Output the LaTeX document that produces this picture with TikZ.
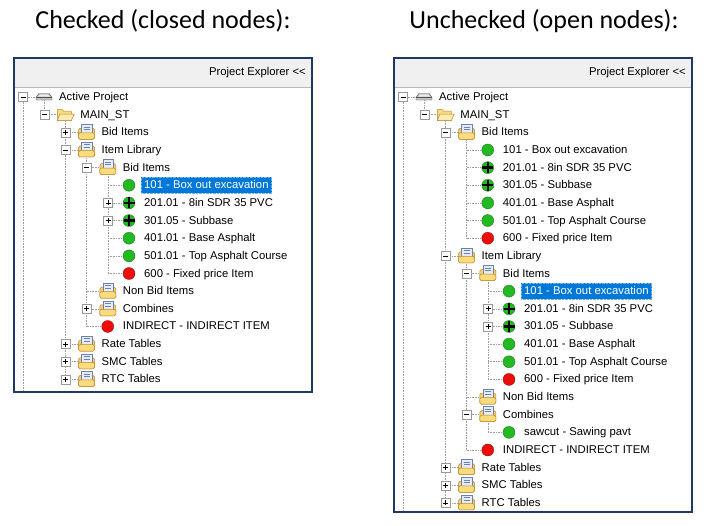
\documentclass[tikz,border=0pt]{standalone}
\usepackage{fontspec}
\setmainfont{Liberation Sans}
\newfontfamily\titlefont{Carlito}

\definecolor{panelblue}{RGB}{31,56,100}
\definecolor{headgray}{RGB}{240,240,240}
\definecolor{selblue}{RGB}{0,120,215}
\definecolor{dotgreen}{RGB}{34,185,34}
\definecolor{dotred}{RGB}{236,12,12}
\definecolor{folderfill}{RGB}{250,220,125}
\definecolor{folderline}{RGB}{185,135,45}
\definecolor{paperfill}{RGB}{228,236,250}
\definecolor{paperline}{RGB}{110,130,175}

\tikzset{
  tline/.style={gray!75, densely dotted, line width=0.6pt},
  itemtext/.style={anchor=west, inner xsep=3pt, inner ysep=2.5pt, text height=9pt, text depth=2pt,
    font=\fontsize{11.3}{13}\selectfont},
  normtext/.style={},
  seltext/.style={fill=selblue, text=white, draw=selblue!55!white, densely dotted},
}

% row and column of the tree, in pixels
\newcommand\rowy[1]{97+17.65*#1}
\newcommand\colx[1]{23+21.25*#1}

% expander box: x, y, sign
\newcommand\expbox[3]{%
  \draw[gray!80, fill=white, line width=0.5pt] (#1-4.5,#2-4.5) rectangle (#1+4.5,#2+4.5);
  \draw[line width=0.7pt] (#1-2.5,#2) -- (#1+2.5,#2);
  \ifx+#3\draw[line width=0.7pt] (#1,#2-2.5) -- (#1,#2+2.5);\fi}

% icons
\newcommand\icondisk[2]{%
  \begin{scope}[shift={(#1,#2)}]
    \filldraw[fill=gray!45, draw=gray!60!black, line width=0.4pt]
      (-8,0.5) -- (-5,-3.5) -- (5,-3.5) -- (8,0.5) -- (8,3) -- (-8,3) -- cycle;
    \draw[gray!60!black, line width=0.4pt] (-8,0.5) -- (8,0.5);
    \fill[gray!15] (-4,-2.5) -- (4,-2.5) -- (5.5,-0.5) -- (-5.5,-0.5) -- cycle;
  \end{scope}}
\newcommand\iconfold[2]{%
  \begin{scope}[shift={(#1,#2)}]
    \filldraw[fill=folderfill, draw=folderline, line width=0.5pt]
      (-8,6) -- (-8,-5) -- (-3,-5) -- (-1.5,-3.5) -- (6,-3.5) -- (6,6) -- cycle;
    \filldraw[fill=folderfill!60!white, draw=folderline, line width=0.5pt]
      (-8,6) -- (-5.5,-0.5) -- (9,-0.5) -- (6,6) -- cycle;
  \end{scope}}
\newcommand\icondoc[2]{%
  \begin{scope}[shift={(#1,#2)}]
    \filldraw[fill=folderfill!85!orange, draw=folderline, line width=0.5pt, rounded corners=1.5pt]
      (-8,7) rectangle (8,-4);
    \filldraw[fill=paperfill, draw=paperline, line width=0.5pt] (-5,2) rectangle (5.5,-8);
    \draw[paperline, line width=0.5pt] (-3,-5.5) -- (3.5,-5.5) (-3,-3) -- (3.5,-3);
    \filldraw[fill=folderfill, draw=folderline, line width=0.5pt, rounded corners=1.5pt]
      (-8,7) -- (-8,0.5) -- (8,0.5) -- (8,7) -- cycle;
  \end{scope}}
\newcommand\icong[2]{%
  \filldraw[fill=dotgreen, draw=dotgreen!60!black, line width=0.3pt] (#1,#2) circle (6pt);}
\newcommand\iconr[2]{%
  \filldraw[fill=dotred, draw=dotred!60!black, line width=0.3pt] (#1,#2) circle (6pt);}
\newcommand\icongp[2]{%
  \icong{#1}{#2}
  \draw[line width=2.4pt] (#1-5.5,#2) -- (#1+5.5,#2) (#1,#2-5.5) -- (#1,#2+5.5);}

% frame and header of the explorer pane: bottom edge
\newcommand\paneframe[1]{%
  \fill[white] (14,58) rectangle (312,#1);
  \fill[headgray] (15,59) rectangle (311,87);
  \draw[gray!55, line width=0.6pt] (15,87) -- (311,87);
  \node[anchor=east, inner sep=0pt, font=\fontsize{11.3}{13}\selectfont] (head) at (306,72.5) {Project Explorer <{}<};
  \draw[panelblue, line width=1.8pt] (14,58) rectangle (312,#1);}

% vertical tree line: column, first row, last row
\newcommand\treeline[3]{\draw[tline] (\colx{#1},\rowy{#2}) -- (\colx{#1},\rowy{#3});}

\begin{document}
\begin{tikzpicture}[x=1pt,y=-1pt]
  \useasboundingbox (0,0) rectangle (708,525);
  %\draw[help lines,step=20] (0,0) grid (708,525);

  \node[anchor=base, inner sep=0pt, font=\titlefont\fontsize{26}{30}\selectfont] (ttl-left) at (163,28) {Checked (closed nodes):};
  \node[anchor=base, inner sep=0pt, font=\titlefont\fontsize{26}{30}\selectfont] (ttl-right) at (544,28) {Unchecked (open nodes):};

  % closed nodes
  \paneframe{392}
  \treeline{0}{0}{16.6}
  \treeline{1}{0}{1}
  \treeline{2}{1}{16}
  \treeline{3}{3}{13}
  \treeline{4}{4}{10}
  \foreach \lvl/\row/\ico/\xp/\sty/\lbl in {
      0/0/disk/m/normtext/Active Project,
      1/1/fold/m/normtext/MAIN\_ST,
      2/2/doc/p/normtext/Bid Items,
      2/3/doc/m/normtext/Item Library,
      3/4/doc/m/normtext/Bid Items,
      4/5/g/x/seltext/101 - Box out excavation,
      4/6/gp/p/normtext/201.01 - 8in SDR 35 PVC,
      4/7/gp/p/normtext/301.05 - Subbase,
      4/8/g/x/normtext/401.01 - Base Asphalt,
      4/9/g/x/normtext/501.01 - Top Asphalt Course,
      4/10/r/x/normtext/600 - Fixed price Item,
      3/11/doc/x/normtext/Non Bid Items,
      3/12/doc/p/normtext/Combines,
      3/13/r/x/normtext/INDIRECT - INDIRECT ITEM,
      2/14/doc/p/normtext/Rate Tables,
      2/15/doc/p/normtext/SMC Tables,
      2/16/doc/p/normtext/RTC Tables}
  {
    \pgfmathsetmacro\xx{\colx{\lvl}}
    \pgfmathsetmacro\yy{\rowy{\row}}
    \draw[tline] (\xx,\yy) -- (\xx+13,\yy);
    \if m\xp \expbox{\xx}{\yy}{-}\fi
    \if p\xp \expbox{\xx}{\yy}{+}\fi
    \csname icon\ico\endcsname{\xx+21}{\yy}
    \node[itemtext,\sty] (L-\row) at (\xx+33,\yy) {\lbl};
  }

  % open nodes
  \begin{scope}[xshift=380pt]
    \paneframe{512}
    \treeline{0}{0}{23.4}
    \treeline{1}{0}{1}
    \treeline{2}{1}{23}
    \treeline{3}{2}{8}
    \treeline{3}{9}{20}
    \treeline{4}{10}{16}
    \treeline{4}{18}{19}
    \foreach \lvl/\row/\ico/\xp/\sty/\lbl in {
        0/0/disk/m/normtext/Active Project,
        1/1/fold/m/normtext/MAIN\_ST,
        2/2/doc/m/normtext/Bid Items,
        3/3/g/x/normtext/101 - Box out excavation,
        3/4/gp/x/normtext/201.01 - 8in SDR 35 PVC,
        3/5/gp/x/normtext/301.05 - Subbase,
        3/6/g/x/normtext/401.01 - Base Asphalt,
        3/7/g/x/normtext/501.01 - Top Asphalt Course,
        3/8/r/x/normtext/600 - Fixed price Item,
        2/9/doc/m/normtext/Item Library,
        3/10/doc/m/normtext/Bid Items,
        4/11/g/x/seltext/101 - Box out excavation,
        4/12/gp/p/normtext/201.01 - 8in SDR 35 PVC,
        4/13/gp/p/normtext/301.05 - Subbase,
        4/14/g/x/normtext/401.01 - Base Asphalt,
        4/15/g/x/normtext/501.01 - Top Asphalt Course,
        4/16/r/x/normtext/600 - Fixed price Item,
        3/17/doc/x/normtext/Non Bid Items,
        3/18/doc/m/normtext/Combines,
        4/19/g/x/normtext/sawcut - Sawing pavt,
        3/20/r/x/normtext/INDIRECT - INDIRECT ITEM,
        2/21/doc/p/normtext/Rate Tables,
        2/22/doc/p/normtext/SMC Tables,
        2/23/doc/p/normtext/RTC Tables}
    {
      \pgfmathsetmacro\xx{\colx{\lvl}}
      \pgfmathsetmacro\yy{\rowy{\row}}
      \draw[tline] (\xx,\yy) -- (\xx+13,\yy);
      \if m\xp \expbox{\xx}{\yy}{-}\fi
      \if p\xp \expbox{\xx}{\yy}{+}\fi
      \csname icon\ico\endcsname{\xx+21}{\yy}
      \node[itemtext,\sty] (R-\row) at (\xx+33,\yy) {\lbl};
    }
  \end{scope}
\end{tikzpicture}
\end{document}
